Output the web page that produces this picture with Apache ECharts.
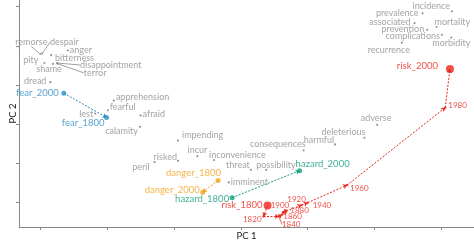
<!DOCTYPE html>
<html><head><meta charset="utf-8">
<script src="https://cdn.jsdelivr.net/npm/echarts@6/dist/echarts.min.js"></script>
<style>html,body{margin:0;padding:0;background:#fff}#c{width:474px;height:246px}</style>
</head><body><div id="c"></div>
<script>
// ---- data (PC coordinates) ----
const xTicks = [-3, -2, -1, 0, 1, 2, 3];
const yTicks = [-2, -1, 0, 1, 2, 3];

const wordNames = ['remorse','despair','anger','bitterness','pity','shame','disappointment','terror','dread',
  'apprehension','fearful','lest','afraid','calamity','peril','risked','impending','incur','inconvenience',
  'consequences','threat','possibility','harmful','deleterious','adverse','imminent',
  'incidence','prevalence','associated','mortality','prevention','complications','morbidity','recurrence'];
const wordX = [-3.00,-2.97,-2.59,-2.84,-2.94,-2.81,-2.75,-2.74,-2.85,
  -1.90,-1.99,-2.18,-1.50,-1.51,-1.29,-0.94,-0.94,-0.65,-0.40,
  0.94,0.15,0.38,1.41,1.85,2.04,-0.18,
  3.16,2.72,2.60,2.93,2.79,3.01,3.15,2.41];
const wordY = [1.79,1.81,1.88,1.76,1.56,1.54,1.56,1.54,1.07,
  0.60,0.35,0.27,0.22,-0.07,-0.97,-0.94,-0.42,-0.82,-0.92,
  -0.67,-1.17,-1.17,-0.52,-0.35,-0.02,-1.49,
  2.88,2.83,2.58,2.48,2.41,2.28,2.21,2.08];

const fearYears = [2000, 1800];
const fearX = [-2.65, -2.01];
const fearY = [0.79, 0.17];
const dangerYears = [1800, 2000];
const dangerX = [-0.34, -0.57];
const dangerY = [-1.44, -1.74];
const hazardYears = [1800, 2000];
const hazardX = [-0.13, 0.88];
const hazardY = [-1.88, -1.19];
const riskYears = [1800, 1820, 1840, 1860, 1880, 1900, 1920, 1940, 1960, 1980, 2000];
const riskX = [0.40, 0.34, 0.57, 0.62, 0.68, 0.63, 0.91, 1.00, 1.59, 3.06, 3.13];
const riskY = [-2.08, -2.36, -2.36, -2.31, -2.21, -2.26, -2.07, -2.01, -1.56, 0.42, 1.41];

// ---- label placement (style only): [dx, dy, align, leaderLine] relative to mark ----
const wordLabel = {
  remorse:[-9,-12,'center',true], despair:[22,-11,'center',true], anger:[2,0,'left'],
  bitterness:[4,3,'left'], pity:[-6,-3,'right'], shame:[-4,5,'center'],
  disappointment:[23,2,'left',true], terror:[26,9,'left',true], dread:[-4,-1,'right'],
  apprehension:[2,-3,'left'], fearful:[2,-3,'left'], lest:[-2,1,'right'], afraid:[2,-1,'left'],
  calamity:[-2,4,'right'], peril:[-5,5,'right'], risked:[-1,-4,'right'], impending:[4,-5,'left'],
  incur:[0,-6,'center'], inconvenience:[-5,-5,'left'], consequences:[2,-6,'right'],
  threat:[-1,-5,'right'], possibility:[-10,-5,'left'], harmful:[-1,-4,'right'],
  deleterious:[1,-6,'right'], adverse:[-1,-7,'center'], imminent:[2,0,'left'],
  incidence:[-2,-5,'right'], prevalence:[-4,0,'right'], associated:[-4,-1,'right'],
  mortality:[-2,-5,'left'], prevention:[-3,-1,'right'], complications:[-2,1,'right'],
  morbidity:[0,6,'center'], recurrence:[-13,7,'center']
};
const focusLabel = {
  fear_2000:[-5,0,'right'], fear_1800:[-2,6,'right'],
  danger_1800:[3,-7,'right'], danger_2000:[-3,-2,'right'],
  hazard_1800:[-3,1,'right'], hazard_2000:[-4,-7,'left'],
  risk_1800:[-5,-1,'right'], risk_2000:[-12,-3,'right'],
  '1820':[-2,3,'right'], '1840':[3,8,'left',true], '1860':[1,2,'left'], '1880':[4,0,'left'],
  '1900':[-3,-7,'center'], '1920':[-5,-6,'center'], '1940':[5,3,'left'], '1960':[3,3,'left'],
  '1980':[3,-2,'left']
};

const FONT = '"Liberation Sans Narrow", "Arial Narrow", Lato, sans-serif';
const colors = { fear:'#2e8bc4', danger:'#f2a01c', hazard:'#139e7c', risk:'#e8261b' };

function layoutFrom(table, nameOf) {
  return function (p) {
    const key = nameOf(p);
    const o = table[key];
    if (!o) return {};
    const cx = p.rect.x + p.rect.width / 2, cy = p.rect.y + p.rect.height / 2;
    return { x: cx + o[0], y: cy + o[1], align: o[2], verticalAlign: 'middle' };
  };
}

const series = [];
series.push({
  type: 'scatter', symbolSize: 2.2, z: 3,
  itemStyle: { color: '#7a7a7a' },
  data: wordNames.map((n, i) => ({
    name: n, value: [wordX[i], wordY[i]],
    labelLine: (wordLabel[n] && wordLabel[n][3]) ? { show: true, lineStyle: { color: '#777', width: 0.7 } } : { show: false }
  })),
  label: { show: true, formatter: '{b}', fontSize: 9, fontFamily: FONT, color: '#8c8c8c' },
  labelLayout: layoutFrom(wordLabel, p => wordNames[p.dataIndex]),
  emphasis: { disabled: true }
});

function addTrajectory(word, years, xs, ys, bigSize, midSize) {
  const c = colors[word];
  const segs = [];
  for (let i = 0; i + 1 < xs.length; i++) {
    segs.push({ coords: [[xs[i], ys[i]], [xs[i + 1], ys[i + 1]]] });
  }
  series.push({
    type: 'lines', coordinateSystem: 'cartesian2d', z: 2,
    symbol: ['none', 'arrow'], symbolSize: 4,
    lineStyle: { color: c, width: 1, type: [2, 1.5], opacity: 1 },
    data: segs, silent: true
  });
  series.push({
    type: 'scatter', z: 4,
    data: years.map((y, i) => {
      const end = (y === 1800 || y === 2000);
      const nm = end ? word + '_' + y : String(y);
      return {
        name: nm, value: [xs[i], ys[i]], symbolSize: end ? bigSize : midSize,
        labelLine: (focusLabel[nm] && focusLabel[nm][3]) ? { show: true, lineStyle: { color: c, width: 0.7 } } : { show: false }
      };
    }),
    itemStyle: { color: c },
    label: { show: true, formatter: '{b}', fontSize: 9.5, fontFamily: FONT, color: c },
    labelLayout: function (p) {
      const y = years[p.dataIndex];
      const end = (y === 1800 || y === 2000);
      const nm = end ? word + '_' + y : String(y);
      const o = focusLabel[nm];
      if (!o) return {};
      const cx = p.rect.x + p.rect.width / 2, cy = p.rect.y + p.rect.height / 2;
      return { x: cx + o[0], y: cy + o[1], align: o[2], verticalAlign: 'middle', fontSize: end ? 9.5 : 8 };
    },
    emphasis: { disabled: true }
  });
}
addTrajectory('fear', fearYears, fearX, fearY, 5, 2);
addTrajectory('danger', dangerYears, dangerX, dangerY, 5, 2);
addTrajectory('hazard', hazardYears, hazardX, hazardY, 5, 2);
addTrajectory('risk', riskYears, riskX, riskY, 8, 2.5);

const chart = echarts.init(document.getElementById('c'), null, { renderer: 'canvas' });
chart.setOption({
  animation: false,
  backgroundColor: '#fff',
  grid: { left: 11, right: 0, top: 0, bottom: 12, containLabel: false },
  xAxis: {
    type: 'value', min: -3.32, max: 3.49,
    name: 'PC 1', nameLocation: 'middle', nameGap: 4,
    nameTextStyle: { fontSize: 9.5, color: '#222', fontFamily: FONT },
    axisLine: { show: true, onZero: false, lineStyle: { color: '#888', width: 1 } },
    axisTick: { show: true, length: 3, customValues: xTicks, lineStyle: { color: '#888' } },
    axisLabel: { show: false, customValues: xTicks },
    splitLine: { show: false }
  },
  yAxis: {
    type: 'value', min: -2.63, max: 3.17,
    name: 'PC 2', nameLocation: 'middle', nameGap: 1, nameRotate: 90,
    nameTextStyle: { fontSize: 9.5, color: '#222', fontFamily: FONT },
    axisLine: { show: true, onZero: false, lineStyle: { color: '#888', width: 1 } },
    axisTick: { show: true, length: 3, customValues: yTicks, lineStyle: { color: '#888' } },
    axisLabel: { show: false, customValues: yTicks },
    splitLine: { show: false }
  },
  series: series
});
</script></body></html>
